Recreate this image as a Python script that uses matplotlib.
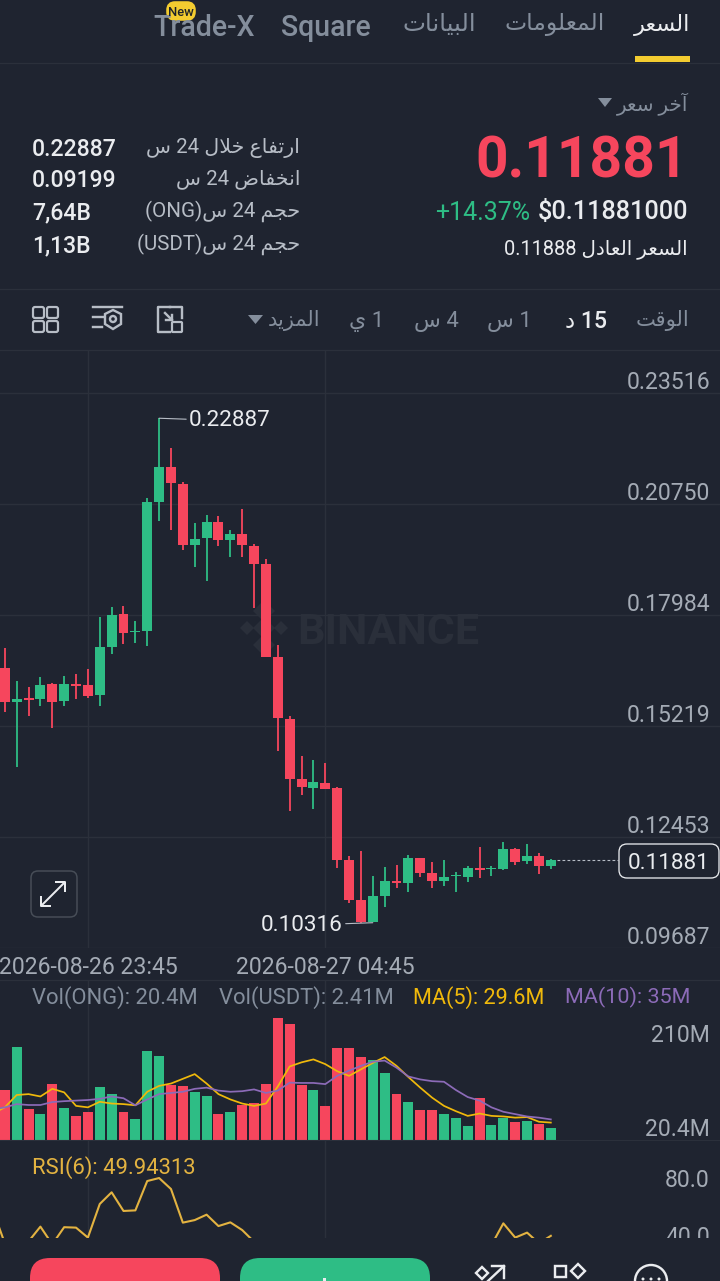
import re
import matplotlib
matplotlib.use("Agg")
import matplotlib.pyplot as plt
from matplotlib.patches import Rectangle, FancyBboxPatch, Circle, Polygon
from matplotlib.transforms import ScaledTranslation

# ------- data -------
opens = [.16656,.15816,.15908,.15891,.16257,.15833,.16265,.16240,.15983,.17179,.18001,.17553,.17585,.20807,.21672,.21256,
         .19728,.19903,.20309,.19860,.20002,.19711,.19262,.16937,.15400,.13890,.13681,.13805,.13665,.11879,.10882,.10341,
         .10982,.11348,.11306,.11929,.11562,.11348,.11473,.11463,.11672,.11647,.11654,.12152,.11846,.11971,.11721]
closes = [.15824,.15891,.15858,.16240,.15824,.16257,.16215,.15973,.17179,.17992,.17543,.17593,.20800,.21679,.21266,.19736,
          .19878,.20301,.19853,.20010,.19728,.19262,.16945,.15425,.13890,.13690,.13815,.13656,.11879,.10882,.10326,.10982,
          .11355,.11298,.11929,.11562,.11363,.11455,.11505,.11672,.11622,.11679,.12160,.11836,.11971,.11721,.11881]
highs = [.17154,.16339,.16182,.16447,.16297,.16464,.16506,.16631,.17927,.18176,.18216,.17835,.20892,.22887,.22138,.21291,
         .20277,.20476,.20443,.20095,.20618,.19746,.19387,.17236,.15475,.14463,.14371,.14296,.13690,.11971,.12103,.11488,
         .11697,.11747,.12003,.11936,.11836,.11871,.11580,.11729,.12195,.11729,.12320,.12170,.12270,.12045,.11903]
lows = [.15574,.14196,.15467,.15716,.15161,.15724,.15883,.15923,.15724,.17012,.17254,.17294,.17219,.20334,.20110,.19611,
        .19188,.18839,.19711,.19437,.19437,.18158,.16937,.14602,.13107,.13499,.13150,.13641,.11687,.10800,.10316,.10326,
        .10700,.11173,.11074,.11455,.11173,.11238,.11074,.11323,.11430,.11488,.11637,.11754,.11786,.11537,.11654]
volumes = [85,157.5,52,44,95,54,40,48,90,78,47,35,151,143,93.5,91,82,75,45,47,59,63.5,95,207,197,93.5,84.5,57,156,156,141,
           136,114,78,65,51,51,44,37,24,71,25.5,38,31,32,28,20.4]
ma5 = [55.5,76.5,78,74,87,81,58,55.5,65,62,61,59,82,92,96,104,112,96,78,69,62,58,62,91,125,132,137,129,117,109,120,131,141,
       126,107,89,72,58,49,41,45,41,40,38,39,31,29.6]
ma10 = [55.5,61,59.5,59.5,64.5,66,67,68,70,74,71,59,69,78,80,82,87,89,84,82,83,86,80,84,97.5,97,97,95,109,118,126,133,135,
        123,108,103,100,99,85,73,67,55.5,48,44,40,38,35]
rsi = [44.7,40,46,56.4,44,56,55.7,48.7,72.3,80.5,67.4,67.8,88.4,90.5,82.8,59.2,61,64.8,56.8,59.4,54,45.8,38,30,25,24,26,25,
       17,14,13,22,32,31,42,38,36,38,38,41,40,43.5,58.7,48.7,52.2,44.7,49.94]
# the series run on past the left edge of the picture
lead_index = [-1]
lead_ma5 = [45]
lead_ma10 = [52]
lead_rsi = [68]
price_ticks = [.23516,.20750,.17984,.15219,.12453,.09687]
price_labels = ["0.23516","0.20750","0.17984","0.15219","0.12453","0.09687"]
time_ticks = [7, 27]
time_labels = ["2026-08-26 23:45", "2026-08-27 04:45"]
vol_ticks = [210, 20.4]
vol_labels = ["210M", "20.4M"]
last_price = .11881
high_price = .22887
low_price = .10316

# ------- colours -------
BG = "#1F2430"; GRID = "#2B303B"; UP = "#2EBD85"; DOWN = "#F6465D"
GREY = "#848E9C"; LIGHT = "#B7BDC6"; WHITE = "#EAECEF"; GOLD = "#F0B90B"; RSI = "#E3B341"; PURPLE = "#8C6BB8"; AXIS = "#A4ABB5"
MARK = "#2A2F3A"

FAM = ["Roboto", "DejaVu Sans"]
plt.rcParams["font.family"] = FAM

# ------- minimal Arabic shaping, matplotlib draws left to right without joining -------
BASE = {"ب":0xFE8F,"ت":0xFE95,"ث":0xFE99,"ج":0xFE9D,"ح":0xFEA1,"خ":0xFEA5,"س":0xFEB1,"ش":0xFEB5,"ص":0xFEB9,"ض":0xFEBD,
        "ط":0xFEC1,"ظ":0xFEC5,"ع":0xFEC9,"غ":0xFECD,"ف":0xFED1,"ق":0xFED5,"ك":0xFED9,"ل":0xFEDD,"م":0xFEE1,"ن":0xFEE5,
        "ه":0xFEE9,"ي":0xFEF1}
NONJOIN = {"ا":0xFE8D,"أ":0xFE83,"آ":0xFE81,"د":0xFEA9,"ذ":0xFEAB,"ر":0xFEAD,"ز":0xFEAF,"و":0xFEED,"ة":0xFE93}
LAMALEF = {"ا":0xFEFB,"أ":0xFEF7,"آ":0xFEF5}


def shape_word(word):
    out = []
    i = 0
    prev_joins = False
    while i < len(word):
        c = word[i]
        nxt = word[i + 1] if i + 1 < len(word) else ""
        if c == "ل" and nxt in LAMALEF:
            out.append(chr(LAMALEF[nxt] + (1 if prev_joins else 0)))
            prev_joins = False
            i += 2
            continue
        if c in NONJOIN:
            out.append(chr(NONJOIN[c] + (1 if prev_joins else 0)))
            prev_joins = False
        else:
            joins_next = nxt in BASE or nxt in NONJOIN
            form = (3 if joins_next else 1) if prev_joins else (2 if joins_next else 0)
            out.append(chr(BASE[c] + form))
            prev_joins = joins_next
        i += 1
    return "".join(reversed(out))


def ar(text):
    tokens = re.findall(r"[\u0600-\u06FF]+|[^\u0600-\u06FF\s]+|\s+", text)
    tokens = [shape_word(t) if re.match(r"[\u0600-\u06FF]", t) else t for t in tokens]
    return "".join(reversed(tokens))


# ------- figure and layers -------
fig = plt.figure(figsize=(7.2, 12.81), dpi=100, facecolor=BG)
W, H = 720, 1281


def layer(z):
    a = fig.add_axes([0, 0, 1, 1], zorder=z)
    a.set_xlim(0, W); a.set_ylim(H, 0); a.axis("off"); a.patch.set_alpha(0)
    return a


back = layer(0)
ui = layer(5)


def pane(top, bottom):
    a = fig.add_axes([0, 1 - bottom / H, 1, (bottom - top) / H], zorder=2)
    a.patch.set_alpha(0)
    for s in a.spines.values():
        s.set_visible(False)
    a.set_xlim(-4.8 / 11.87, (W - 4.8) / 11.87)
    return a


PT = 1 / 1.389  # px to pt
def T(a, x, y, s, px, color=LIGHT, ha="left", weight="normal", **kw):
    return a.text(x, y, s, fontsize=px * PT, color=color, ha=ha, va="center_baseline", fontweight=weight, **kw)


xs = list(range(len(opens)))

# price pane
px_per = 111.0 / (price_ticks[0] - price_ticks[1])
ax = pane(351, 948)
ax.set_ylim(price_ticks[0] - (948 - 393) / px_per, price_ticks[0] + (393 - 351) / px_per)
ax.grid(True, color=GRID, lw=1.0)
ax.set_axisbelow(True)
colors = [UP if c >= o else DOWN for o, c in zip(opens, closes)]
ax.vlines(xs, lows, highs, colors=colors, lw=1.3, zorder=3)
ax.bar(xs, [abs(c - o) for o, c in zip(opens, closes)], bottom=[min(o, c) for o, c in zip(opens, closes)],
       width=0.84, color=colors, zorder=3)
ax.yaxis.tick_right()
ax.set_yticks(price_ticks, price_labels)
ax.set_xticks(time_ticks, time_labels)
ax.tick_params(axis="y", length=0, pad=-7.2, labelsize=23 * PT, labelcolor=AXIS)
ax.tick_params(axis="x", length=0, pad=6, labelsize=23 * PT, labelcolor=AXIS)
offset = ScaledTranslation(0, -1 / 100, fig.dpi_scale_trans)
for lab in ax.get_yticklabels():
    lab.set_ha("right"); lab.set_va("bottom")
    lab.set_transform(lab.get_transform() + offset)
lead = dict(arrowstyle="-", color=LIGHT, lw=0.8, shrinkA=0, shrinkB=0)
ax.annotate("0.22887", xy=(13, high_price), xytext=(21.5, 0), textcoords="offset points", ha="left", va="center_baseline",
            fontsize=22.5 * PT, color=WHITE, arrowprops=lead)
ax.annotate("0.10316", xy=(31, low_price), xytext=(-21.5, 0), textcoords="offset points", ha="right", va="center_baseline",
            fontsize=22.5 * PT, color=WHITE, arrowprops=lead)
ax.hlines(last_price, 46.5, 51.66, colors=LIGHT, lw=0.8, linestyles=(0, (2.5, 2)))

# volume pane
vol_per_px = 1.7
vx = pane(980, 1140)
vx.set_ylim(0, 160 * vol_per_px)
vx.bar(xs, volumes, width=0.84, color=colors, zorder=2)
vx.plot(lead_index + xs, lead_ma5 + ma5, color=GOLD, lw=1.25, zorder=3)
vx.plot(lead_index + xs, lead_ma10 + ma10, color=PURPLE, lw=1.25, zorder=4)
vx.yaxis.tick_right()
vx.set_yticks(vol_ticks, vol_labels)
vx.set_xticks(time_ticks, [])
vx.grid(True, axis="x", color=GRID, lw=1.0)
vx.set_axisbelow(True)
vx.tick_params(length=0, pad=-7.2, labelsize=23 * PT, labelcolor=AXIS)
for lab, dy in zip(vx.get_yticklabels(), (-16.5, 1)):
    lab.set_ha("right")
    lab.set_transform(lab.get_transform() + ScaledTranslation(0, dy / 100, fig.dpi_scale_trans))
vx.spines["bottom"].set_visible(True); vx.spines["bottom"].set_color(GRID)

# RSI pane
rx = pane(1140, 1238)
rx.set_ylim(80 - (1238 - 1193) / 1.425, 80 + (1193 - 1140) / 1.425)
rx.plot(lead_index + xs, lead_rsi + rsi, color=RSI, lw=1.5, zorder=3)
rx.yaxis.tick_right()
rx.set_yticks([80], ["80.0"])
rx.set_xticks(time_ticks, [])
rx.grid(True, axis="x", color=GRID, lw=1.0)
rx.set_axisbelow(True)
rx.tick_params(length=0, pad=-7.2, labelsize=23 * PT, labelcolor=AXIS)
for lab in rx.get_yticklabels():
    lab.set_ha("right")
    lab.set_transform(lab.get_transform() + ScaledTranslation(0, 15 / 100, fig.dpi_scale_trans))

# ------- watermark -------
for (x, y, m) in [(264, 628, 13), (247, 628, 8), (281, 628, 8), (264, 611, 13), (264, 645, 13)]:
    back.plot([x], [y], marker="D", ms=m * PT * 1.15, color=MARK, mew=0)
T(back, 297, 628, "BINANCE", 43, color=MARK, weight="bold")

# ------- dividers -------
for y in (62.5, 288.5, 349.5, 979.5):
    back.plot([0, W], [y, y], color=GRID, lw=0.9)

# ------- top tabs -------
T(ui, 153, 25, "Trade-X", 28.5, color=GREY, weight="medium")
T(ui, 281, 25, "Square", 28.5, color=GREY, weight="medium")
T(ui, 476, 22, ar("البيانات"), 24.5, color=GREY, ha="right")
T(ui, 605, 22, ar("المعلومات"), 23.5, color=GREY, ha="right")
T(ui, 690, 22, ar("السعر"), 22.5, color=WHITE, ha="right")
ui.add_patch(Rectangle((635, 56), 55, 6, color="#F3CC30", lw=0))
ui.add_patch(FancyBboxPatch((169, 4), 24, 14, boxstyle="round,pad=0,rounding_size=6", mutation_aspect=1,
                            fc="#F3CC30", ec="#F3CC30", lw=4))
T(ui, 181, 11, "New", 13, color="#1E2329", ha="center", weight="medium")

# ------- header -------
T(ui, 688, 102, ar("آخر سعر"), 20, color=GREY, ha="right")
ui.add_patch(Polygon([(598, 98), (612, 98), (605, 107)], color=GREY, lw=0))
T(ui, 688, 156, "0.11881", 57, color=DOWN, ha="right", weight="bold")
T(ui, 530, 210, "+14.37%", 25, color=UP, ha="right")
T(ui, 688, 210, "$0.11881000", 25.2, color=WHITE, ha="right", weight="medium")
T(ui, 688, 247, ar("السعر العادل 0.11888"), 20, color=WHITE, ha="right")
rows = [(147, "0.22887", "ارتفاع خلال 24 س"), (178, "0.09199", "انخفاض 24 س"),
        (210, "7,64B", "حجم 24 س(ONG)"), (243, "1,13B", "حجم 24 س(USDT)")]
for y, v, lab in rows:
    T(ui, 32, y, v, 23, color=WHITE, weight="medium")
    T(ui, 300, y - 1, ar(lab), 20.5, color=LIGHT, ha="right")

# ------- interval row -------
T(ui, 689, 318, ar("الوقت"), 21, color=GREY, ha="right")
T(ui, 607, 319, ar("15 د"), 23, color=WHITE, ha="right", weight="medium")
T(ui, 532, 319, ar("1 س"), 22, color=GREY, ha="right")
T(ui, 459, 319, ar("4 س"), 22, color=GREY, ha="right")
T(ui, 384, 319, ar("1 ي"), 22, color=GREY, ha="right")
T(ui, 320, 318, ar("المزيد"), 21, color=GREY, ha="right")
ui.add_patch(Polygon([(248, 315), (263, 315), (255.5, 324)], color=GREY, lw=0))


def box(x, y, w, h, r=2, ec=LIGHT, lw=2.2, fc="none"):
    ui.add_patch(FancyBboxPatch((x, y), w, h, boxstyle=f"round,pad=0,rounding_size={r}", fc=fc, ec=ec, lw=lw * PT))


for x in (33, 47):
    for y in (307, 321):
        box(x, y, 11, 11)
# chart settings icon
line = dict(color=LIGHT, lw=2.4 * PT)
ui.plot([93, 122], [307, 307], **line)
ui.plot([93, 104], [317, 317], **line)
ui.plot([93, 102], [327, 327], **line)
ui.add_patch(Polygon([(113, 310), (121, 314), (121, 324), (113, 329), (105, 324), (105, 314)], fc="none", ec=LIGHT, lw=2.4 * PT))
ui.add_patch(Circle((113, 319), 3, fc="none", ec=LIGHT, lw=2.4 * PT))
# fullscreen icon
ui.plot([170, 158, 158, 170], [307, 307, 332, 332], **line)
ui.plot([170, 182, 182], [307, 307, 318], **line)
box(172, 322, 10, 10, r=1)
ui.plot([165, 172], [313, 320], **line)
ui.plot([172, 172, 166], [315, 320, 320], **line)

# ------- last-price tag and expand button -------
box(619, 844, 100, 34, r=8, ec=WHITE, lw=1.3, fc=BG)
T(ui, 669, 861, "0.11881", 22.5, color=WHITE, ha="center")
box(31, 871, 46, 46, r=7, ec="#474D57", lw=1.5, fc=BG)
ui.plot([42, 64], [905, 883], color=WHITE, lw=2 * PT)
ui.plot([56, 65, 65], [882, 882, 891], color=WHITE, lw=2 * PT)
ui.plot([41, 41, 50], [897, 906, 906], color=WHITE, lw=2 * PT)

# ------- indicator legends -------
T(ui, 32, 995, "Vol(ONG): 20.4M", 22, color=GREY)
T(ui, 219, 995, "Vol(USDT): 2.41M", 22, color=GREY)
T(ui, 413, 995, "MA(5): 29.6M", 21.7, color=GOLD)
T(ui, 565, 995, "MA(10): 35M", 21.5, color=PURPLE)
T(ui, 32, 1165, "RSI(6): 49.94313", 22, color=RSI)
T(ui, 710, 1235, "40.0", 23, color=AXIS, ha="right", zorder=1)

# ------- bottom bar -------
ui.add_patch(Rectangle((0, 1238), W, 43, color=BG, lw=0, zorder=3))
ui.add_patch(FancyBboxPatch((30, 1258), 190, 60, boxstyle="round,pad=0,rounding_size=20", fc=DOWN, ec="none", zorder=4))
ui.add_patch(FancyBboxPatch((240, 1258), 190, 60, boxstyle="round,pad=0,rounding_size=20", fc=UP, ec="none", zorder=4))
ui.add_patch(Rectangle((323, 1278), 3, 3, color=WHITE, lw=0, zorder=5))
icon = dict(color=WHITE, lw=2.4 * PT, zorder=5)
ui.plot([488, 504], [1281, 1266], **icon)
ui.plot([492, 504, 504], [1266, 1266, 1278], **icon)
ui.add_patch(Polygon([(476, 1273), (482, 1267), (488, 1273), (482, 1279)], fc="none", ec=WHITE, lw=2.4 * PT, zorder=5))
ui.add_patch(Rectangle((555, 1266), 11, 11, fc="none", ec=WHITE, lw=2.4 * PT, zorder=5))
ui.add_patch(Polygon([(571, 1271), (578, 1264), (585, 1271), (578, 1278)], fc="none", ec=WHITE, lw=2.4 * PT, zorder=5))
ui.add_patch(Circle((651, 1281), 16, fc="none", ec=WHITE, lw=2.4 * PT, zorder=5))
for x in (643, 651, 659):
    ui.add_patch(Circle((x, 1279), 1.5, fc=WHITE, ec="none", zorder=5))

fig.savefig("out.png", dpi=100, facecolor=BG)
